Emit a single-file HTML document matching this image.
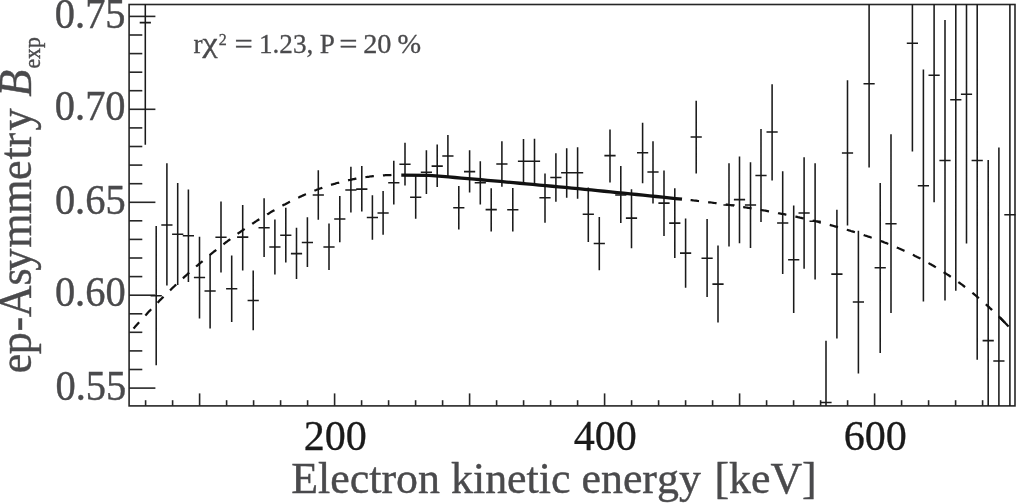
<!DOCTYPE html><html><head><meta charset="utf-8"><title>ep-Asymmetry</title><style>html,body{margin:0;padding:0;background:#fff}svg{display:block}text{font-family:"Liberation Serif","DejaVu Serif",serif;font-kerning:none}</style></head><body>
<svg width="1016" height="503" viewBox="0 0 1016 503">
<rect width="1016" height="503" fill="#fff"/>
<g stroke="#262626" stroke-width="1.6" fill="none">
<rect x="129.1" y="4.5" width="885.9" height="401.4"/>
<path d="M129.1 16.4h26.3"/>
<path d="M129.1 35.0h13.2"/>
<path d="M129.1 53.6h13.2"/>
<path d="M129.1 72.2h13.2"/>
<path d="M129.1 90.7h13.2"/>
<path d="M129.1 109.3h26.3"/>
<path d="M129.1 127.9h13.2"/>
<path d="M129.1 146.5h13.2"/>
<path d="M129.1 165.1h13.2"/>
<path d="M129.1 183.7h13.2"/>
<path d="M129.1 202.3h26.3"/>
<path d="M129.1 220.8h13.2"/>
<path d="M129.1 239.4h13.2"/>
<path d="M129.1 258.0h13.2"/>
<path d="M129.1 276.6h13.2"/>
<path d="M129.1 295.2h26.3"/>
<path d="M129.1 313.8h13.2"/>
<path d="M129.1 332.3h13.2"/>
<path d="M129.1 350.9h13.2"/>
<path d="M129.1 369.5h13.2"/>
<path d="M129.1 388.1h26.3"/>
<path d="M145.6 405.9v-5.7"/>
<path d="M172.6 405.9v-5.7"/>
<path d="M199.6 405.9v-12.5"/>
<path d="M226.6 405.9v-5.7"/>
<path d="M253.6 405.9v-5.7"/>
<path d="M280.6 405.9v-5.7"/>
<path d="M307.6 405.9v-5.7"/>
<path d="M334.6 405.9v-12.5"/>
<path d="M361.6 405.9v-5.7"/>
<path d="M388.6 405.9v-5.7"/>
<path d="M415.6 405.9v-5.7"/>
<path d="M442.6 405.9v-5.7"/>
<path d="M469.6 405.9v-12.5"/>
<path d="M496.6 405.9v-5.7"/>
<path d="M523.6 405.9v-5.7"/>
<path d="M550.6 405.9v-5.7"/>
<path d="M577.6 405.9v-5.7"/>
<path d="M604.6 405.9v-12.5"/>
<path d="M631.6 405.9v-5.7"/>
<path d="M658.6 405.9v-5.7"/>
<path d="M685.6 405.9v-5.7"/>
<path d="M712.6 405.9v-5.7"/>
<path d="M739.6 405.9v-12.5"/>
<path d="M766.6 405.9v-5.7"/>
<path d="M793.6 405.9v-5.7"/>
<path d="M820.6 405.9v-5.7"/>
<path d="M847.6 405.9v-5.7"/>
<path d="M874.6 405.9v-12.5"/>
<path d="M901.6 405.9v-5.7"/>
<path d="M928.6 405.9v-5.7"/>
<path d="M955.6 405.9v-5.7"/>
<path d="M982.6 405.9v-5.7"/>
</g>
<g stroke="#1a1a1a" stroke-width="1.55" fill="none">
<path d="M145.3 4.3V144.7M139.7 22.6h11.2M156.2 226.1V365.3M150.6 295.8h11.2M166.9 163.2V285.4M161.3 224.9h11.2M177.7 182.9V284.9M172.1 234.3h11.2M188.4 189.5V281.9M182.8 235.7h11.2M199.5 236.7V318.6M193.9 277.5h11.2M210.1 254.6V328.6M204.5 291.0h11.2M221.0 201.5V272.4M215.4 237.3h11.2M231.7 255.5V322.0M226.1 288.8h11.2M242.7 204.9V270.4M237.1 237.1h11.2M253.2 270.4V330.2M247.6 300.4h11.2M264.1 198.3V257.1M258.5 227.7h11.2M274.9 219.4V274.6M269.3 247.0h11.2M285.8 207.8V262.5M280.2 235.3h11.2M296.5 227.7V278.9M290.9 253.6h11.2M307.4 217.2V267.0M301.8 242.4h11.2M318.3 170.2V219.8M312.7 195.0h11.2M329.0 223.4V270.1M323.4 246.9h11.2M339.8 196.0V242.3M334.2 219.0h11.2M350.9 166.7V212.5M345.3 189.9h11.2M361.8 166.1V211.5M356.2 189.1h11.2M372.4 195.3V239.7M366.8 217.4h11.2M383.1 191.0V234.7M377.5 212.9h11.2M393.8 160.7V204.4M388.2 182.8h11.2M405.0 142.8V185.5M399.4 164.3h11.2M415.7 175.6V218.8M410.1 197.2h11.2M426.4 150.2V193.9M420.8 172.2h11.2M437.2 144.4V187.1M431.6 166.1h11.2M447.9 134.9V176.6M442.3 155.9h11.2M458.8 186.1V229.4M453.2 207.7h11.2M469.6 150.2V192.5M464.0 171.6h11.2M480.3 161.3V204.4M474.7 182.8h11.2M491.2 188.2V231.5M485.6 209.6h11.2M501.9 141.3V186.7M496.3 164.0h11.2M512.8 187.9V231.6M507.2 209.8h11.2M523.5 139.1V183.0M517.9 161.2h11.2M534.5 138.7V183.5M528.9 161.2h11.2M545.0 173.5V222.7M539.4 197.8h11.2M555.9 153.2V201.8M550.3 177.5h11.2M566.7 148.3V197.8M561.1 172.7h11.2M577.6 147.3V198.8M572.0 172.7h11.2M588.3 187.5V242.0M582.7 214.3h11.2M599.3 217.1V270.2M593.7 243.4h11.2M610.0 129.4V182.6M604.4 155.6h11.2M620.8 166.1V223.1M615.2 194.9h11.2M631.5 189.3V248.2M625.9 218.1h11.2M642.6 122.8V183.3M637.0 152.8h11.2M653.0 141.3V203.4M647.4 172.0h11.2M664.0 170.5V236.0M658.4 203.1h11.2M674.8 188.3V258.0M669.2 223.1h11.2M685.6 218.5V287.7M680.0 253.1h11.2M696.2 100.8V173.4M690.6 136.9h11.2M707.1 219.1V297.0M701.5 258.2h11.2M718.0 245.5V322.4M712.4 284.1h11.2M729.0 163.3V246.5M723.4 205.0h11.2M739.5 156.5V243.3M733.9 199.6h11.2M750.5 162.3V248.0M744.9 205.0h11.2M761.0 129.0V221.9M755.4 175.4h11.2M772.1 84.3V180.4M766.5 132.0h11.2M782.7 171.2V274.1M777.1 223.0h11.2M793.7 205.6V313.0M788.1 259.8h11.2M804.1 157.3V268.7M798.5 213.0h11.2M815.1 163.3V279.6M809.5 221.2h11.2M826.0 340.8V405.9M820.4 402.5h11.2M836.9 209.8V338.4M831.3 274.1h11.2M847.5 80.3V225.4M841.9 152.9h11.2M858.4 230.7V373.5M852.8 302.0h11.2M869.1 4.3V167.5M863.5 83.8h11.2M880.2 182.9V353.0M874.6 267.8h11.2M891.0 134.3V313.1M885.4 223.8h11.2M912.4 4.3V151.6M906.8 43.3h11.2M923.4 69.6V301.6M917.8 185.8h11.2M934.1 4.3V202.3M928.5 75.2h11.2M945.0 19.9V300.6M939.4 160.5h11.2M955.8 4.3V290.7M950.2 99.8h11.2M966.5 4.3V243.5M960.9 94.2h11.2M977.2 4.3V359.8M971.6 160.5h11.2M988.2 160.1V405.9M982.6 340.6h11.2M998.9 147.6V405.9M993.3 360.9h11.2M1009.9 4.3V405.9M1004.3 214.7h11.2"/>
</g>
<path d="M129.1 333.4 L130.0 332.4 L130.9 331.4 L131.8 330.4 L132.7 329.4 L133.6 328.4 L134.5 327.4 L135.3 326.4 L136.2 325.4 L137.1 324.4 L138.0 323.4 L138.9 322.4 L139.8 321.4 L140.7 320.5 L141.6 319.5 L142.5 318.5 L143.4 317.6 L144.3 316.6 L145.2 315.6 L146.1 314.7 L147.0 313.7 L147.8 312.8 L148.7 311.8 L149.6 310.9 L150.5 310.0 L151.4 309.0 L152.3 308.1 L153.2 307.2 L154.1 306.3 L155.0 305.3 L155.9 304.4 L156.8 303.5 L157.7 302.6 L158.6 301.7 L159.4 300.8 L160.3 299.9 L161.2 299.0 L162.1 298.1 L163.0 297.2 L163.9 296.3 L164.8 295.5 L165.7 294.6 L166.6 293.7 L167.5 292.8 L168.4 292.0 L169.3 291.1 L170.2 290.2 L171.1 289.4 L171.9 288.5 L172.8 287.7 L173.7 286.8 L174.6 286.0 L175.5 285.1 L176.4 284.3 L177.3 283.5 L178.2 282.6 L179.1 281.8 L180.0 281.0 L180.9 280.2 L181.8 279.3 L182.7 278.5 L183.6 277.7 L184.4 276.9 L185.3 276.1 L186.2 275.3 L187.1 274.5 L188.0 273.7 L188.9 272.9 L189.8 272.1 L190.7 271.3 L191.6 270.5 L192.5 269.7 L193.4 268.9 L194.3 268.2 L195.2 267.4 L196.0 266.6 L196.9 265.8 L197.8 265.1 L198.7 264.3 L199.6 263.5 L200.5 262.8 L201.4 262.0 L202.3 261.3 L203.2 260.5 L204.1 259.8 L205.0 259.0 L205.9 258.3 L206.8 257.6 L207.7 256.8 L208.5 256.1 L209.4 255.4 L210.3 254.6 L211.2 253.9 L212.1 253.2 L213.0 252.5 L213.9 251.7 L214.8 251.0 L215.7 250.3 L216.6 249.6 L217.5 248.9 L218.4 248.2 L219.3 247.5 L220.1 246.8 L221.0 246.1 L221.9 245.4 L222.8 244.8 L223.7 244.1 L224.6 243.4 L225.5 242.7 L226.4 242.0 L227.3 241.4 L228.2 240.7 L229.1 240.0 L230.0 239.4 L230.9 238.7 L231.8 238.1 L232.6 237.4 L233.5 236.7 L234.4 236.1 L235.3 235.5 L236.2 234.8 L237.1 234.2 L238.0 233.5 L238.9 232.9 L239.8 232.3 L240.7 231.6 L241.6 231.0 L242.5 230.4 L243.4 229.8 L244.3 229.2 L245.1 228.6 L246.0 227.9 L246.9 227.3 L247.8 226.7 L248.7 226.1 L249.6 225.5 L250.5 224.9 L251.4 224.4 L252.3 223.8 L253.2 223.2 L254.1 222.6 L255.0 222.0 L255.9 221.4 L256.7 220.9 L257.6 220.3 L258.5 219.7 L259.4 219.2 L260.3 218.6 L261.2 218.0 L262.1 217.5 L263.0 216.9 L263.9 216.4 L264.8 215.8 L265.7 215.3 L266.6 214.8 L267.5 214.2 L268.4 213.7 L269.2 213.2 L270.1 212.6 L271.0 212.1 L271.9 211.6 L272.8 211.1 L273.7 210.6 L274.6 210.1 L275.5 209.5 L276.4 209.0 L277.3 208.5 L278.2 208.0 L279.1 207.5 L280.0 207.0 L280.8 206.6 L281.7 206.1 L282.6 205.6 L283.5 205.1 L284.4 204.6 L285.3 204.2 L286.2 203.7 L287.1 203.2 L288.0 202.8 L288.9 202.3 L289.8 201.8 L290.7 201.4 L291.6 200.9 L292.5 200.5 L293.3 200.1 L294.2 199.6 L295.1 199.2 L296.0 198.7 L296.9 198.3 L297.8 197.9 L298.7 197.5 L299.6 197.1 L300.5 196.6 L301.4 196.2 L302.3 195.8 L303.2 195.4 L304.1 195.0 L305.0 194.6 L305.8 194.2 L306.7 193.8 L307.6 193.5 L308.5 193.1 L309.4 192.7 L310.3 192.3 L311.2 192.0 L312.1 191.6 L313.0 191.2 L313.9 190.9 L314.8 190.5 L315.7 190.2 L316.6 189.8 L317.4 189.5 L318.3 189.2 L319.2 188.8 L320.1 188.5 L321.0 188.2 L321.9 187.9 L322.8 187.5 L323.7 187.2 L324.6 186.9 L325.5 186.6 L326.4 186.3 L327.3 186.0 L328.2 185.7 L329.1 185.4 L329.9 185.2 L330.8 184.9 L331.7 184.6 L332.6 184.3 L333.5 184.1 L334.4 183.8 L335.3 183.6 L336.2 183.3 L337.1 183.0 L338.0 182.8 L338.9 182.6 L339.8 182.3 L340.7 182.1 L341.5 181.9 L342.4 181.6 L343.3 181.4 L344.2 181.2 L345.1 181.0 L346.0 180.8 L346.9 180.6 L347.8 180.4 L348.7 180.2 L349.6 180.0 L350.5 179.8 L351.4 179.6 L352.3 179.4 L353.2 179.2 L354.0 179.1 L354.9 178.9 L355.8 178.7 L356.7 178.5 L357.6 178.4 L358.5 178.2 L359.4 178.1 L360.3 177.9 L361.2 177.8 L362.1 177.6 L363.0 177.5 L363.9 177.4 L364.8 177.2 L365.7 177.1 L366.5 177.0 L367.4 176.9 L368.3 176.8 L369.2 176.7 L370.1 176.5 L371.0 176.4 L371.9 176.3 L372.8 176.2 L373.7 176.2 L374.6 176.1 L375.5 176.0 L376.4 175.9 L377.3 175.8 L378.1 175.7 L379.0 175.7 L379.9 175.6 L380.8 175.5 L381.7 175.5 L382.6 175.4 L383.5 175.3 L384.4 175.3 L385.3 175.2 L386.2 175.2 L387.1 175.1 L388.0 175.1 L388.9 175.1 L389.8 175.0 L390.6 175.0 L391.5 174.9 L392.4 174.9 L393.3 174.9 L394.2 174.9 L395.1 174.8 L396.0 174.8" stroke="#111" stroke-width="2.25" fill="none" stroke-dasharray="8.5 9.153" stroke-dashoffset="11.147"/>
<path d="M401.3 175.1 L429.0 175.29 L435.5 175.83 L442.0 176.38 L448.5 176.93 L454.9 177.49 L461.4 178.05 L467.9 178.61 L474.4 179.18 L480.9 179.74 L487.4 180.32 L493.9 180.89 L500.4 181.48 L506.8 182.06 L513.3 182.65 L519.8 183.24 L526.3 183.83 L532.8 184.43 L539.3 185.03 L545.8 185.64 L552.3 186.25 L558.7 186.86 L565.2 187.48 L571.7 188.10 L578.2 188.72 L584.7 189.35 L591.2 189.98 L597.7 190.62 L604.2 191.26 L610.6 191.90 L617.1 192.55 L623.6 193.20 L630.1 193.85 L636.6 194.51 L643.1 195.17 L649.6 195.83 L656.1 196.50 L662.5 197.17 L669.0 197.84 L675.5 198.52 L682.0 199.20" stroke="#111" stroke-width="3.3" fill="none" stroke-linejoin="round"/>
<path d="M682.0 199.1 L683.1 199.2 L684.2 199.4 L685.3 199.5 L686.3 199.6 L687.4 199.7 L688.5 199.8 L689.6 200.0 L690.7 200.1 L691.8 200.2 L692.8 200.3 L693.9 200.5 L695.0 200.6 L696.1 200.7 L697.2 200.8 L698.3 201.0 L699.3 201.1 L700.4 201.2 L701.5 201.3 L702.6 201.5 L703.7 201.6 L704.8 201.7 L705.8 201.9 L706.9 202.0 L708.0 202.1 L709.1 202.3 L710.2 202.4 L711.3 202.5 L712.3 202.7 L713.4 202.8 L714.5 203.0 L715.6 203.1 L716.7 203.2 L717.8 203.4 L718.8 203.5 L719.9 203.7 L721.0 203.8 L722.1 204.0 L723.2 204.1 L724.3 204.3 L725.3 204.4 L726.4 204.6 L727.5 204.7 L728.6 204.9 L729.7 205.0 L730.8 205.2 L731.8 205.3 L732.9 205.5 L734.0 205.6 L735.1 205.8 L736.2 206.0 L737.3 206.1 L738.3 206.3 L739.4 206.5 L740.5 206.6 L741.6 206.8 L742.7 207.0 L743.8 207.1 L744.8 207.3 L745.9 207.5 L747.0 207.6 L748.1 207.8 L749.2 208.0 L750.3 208.2 L751.4 208.3 L752.4 208.5 L753.5 208.7 L754.6 208.9 L755.7 209.0 L756.8 209.2 L757.9 209.4 L758.9 209.6 L760.0 209.8 L761.1 210.0 L762.2 210.2 L763.3 210.3 L764.4 210.5 L765.4 210.7 L766.5 210.9 L767.6 211.1 L768.7 211.3 L769.8 211.5 L770.9 211.7 L771.9 211.9 L773.0 212.1 L774.1 212.3 L775.2 212.5 L776.3 212.7 L777.4 212.9 L778.4 213.2 L779.5 213.4 L780.6 213.6 L781.7 213.8 L782.8 214.0 L783.9 214.2 L784.9 214.4 L786.0 214.7 L787.1 214.9 L788.2 215.1 L789.3 215.3 L790.4 215.6 L791.4 215.8 L792.5 216.0 L793.6 216.2 L794.7 216.5 L795.8 216.7 L796.9 216.9 L797.9 217.2 L799.0 217.4 L800.1 217.7 L801.2 217.9 L802.3 218.2 L803.4 218.4 L804.4 218.6 L805.5 218.9 L806.6 219.1 L807.7 219.4 L808.8 219.6 L809.9 219.9 L810.9 220.2 L812.0 220.4 L813.1 220.7 L814.2 220.9 L815.3 221.2 L816.4 221.5 L817.5 221.7 L818.5 222.0 L819.6 222.3 L820.7 222.6 L821.8 222.8 L822.9 223.1 L824.0 223.4 L825.0 223.7 L826.1 224.0 L827.2 224.2 L828.3 224.5 L829.4 224.8 L830.5 225.1 L831.5 225.4 L832.6 225.7 L833.7 226.0 L834.8 226.3 L835.9 226.6 L837.0 226.9 L838.0 227.2 L839.1 227.5 L840.2 227.8 L841.3 228.1 L842.4 228.4 L843.5 228.7 L844.5 229.0 L845.6 229.4 L846.7 229.7 L847.8 230.0 L848.9 230.3 L850.0 230.7 L851.0 231.0 L852.1 231.3 L853.2 231.6 L854.3 232.0 L855.4 232.3 L856.5 232.7 L857.5 233.0 L858.6 233.3 L859.7 233.7 L860.8 234.0 L861.9 234.4 L863.0 234.7 L864.0 235.1 L865.1 235.5 L866.2 235.8 L867.3 236.2 L868.4 236.6 L869.5 236.9 L870.5 237.3 L871.6 237.7 L872.7 238.1 L873.8 238.5 L874.9 238.8 L876.0 239.2 L877.1 239.6 L878.1 240.0 L879.2 240.4 L880.3 240.8 L881.4 241.2 L882.5 241.6 L883.6 242.1 L884.6 242.5 L885.7 242.9 L886.8 243.3 L887.9 243.8 L889.0 244.2 L890.1 244.6 L891.1 245.1 L892.2 245.5 L893.3 246.0 L894.4 246.4 L895.5 246.9 L896.6 247.3 L897.6 247.8 L898.7 248.3 L899.8 248.7 L900.9 249.2 L902.0 249.7 L903.1 250.2 L904.1 250.7 L905.2 251.2 L906.3 251.7 L907.4 252.2 L908.5 252.7 L909.6 253.2 L910.6 253.7 L911.7 254.3 L912.8 254.8 L913.9 255.3 L915.0 255.9 L916.1 256.4 L917.1 257.0 L918.2 257.5 L919.3 258.1 L920.4 258.6 L921.5 259.2 L922.6 259.8 L923.6 260.4 L924.7 261.0 L925.8 261.5 L926.9 262.1 L928.0 262.7 L929.1 263.4 L930.1 264.0 L931.2 264.6 L932.3 265.2 L933.4 265.8 L934.5 266.5 L935.6 267.1 L936.6 267.8 L937.7 268.4 L938.8 269.1 L939.9 269.8 L941.0 270.4 L942.1 271.1 L943.2 271.8 L944.2 272.5 L945.3 273.2 L946.4 273.9 L947.5 274.6 L948.6 275.3 L949.7 276.0 L950.7 276.8 L951.8 277.5 L952.9 278.2 L954.0 279.0 L955.1 279.7 L956.2 280.5 L957.2 281.3 L958.3 282.1 L959.4 282.8 L960.5 283.6 L961.6 284.4 L962.7 285.2 L963.7 286.0 L964.8 286.9 L965.9 287.7 L967.0 288.5 L968.1 289.4 L969.2 290.2 L970.2 291.1 L971.3 291.9 L972.4 292.8 L973.5 293.7 L974.6 294.6 L975.7 295.5 L976.7 296.4 L977.8 297.3 L978.9 298.2 L980.0 299.1 L981.1 300.0 L982.2 301.0 L983.2 301.9 L984.3 302.9 L985.4 303.8 L986.5 304.8 L987.6 305.8 L988.7 306.8 L989.7 307.8 L990.8 308.8 L991.9 309.8 L993.0 310.8 L994.1 311.9 L995.2 312.9 L996.2 313.9 L997.3 315.0 L998.4 316.1 L999.5 317.1 L1000.6 318.2 L1001.7 319.3 L1002.7 320.4 L1003.8 321.5 L1004.9 322.6 L1006.0 323.8" stroke="#111" stroke-width="2.25" fill="none" stroke-dasharray="8.5 9.201" stroke-dashoffset="9.048"/>
<path d="M1000.0 317.6 L1001.0 318.6 L1001.9 319.6 L1002.9 320.5 L1003.8 321.5 L1004.8 322.5 L1005.7 323.5 L1006.7 324.5 L1007.6 325.5 L1008.6 326.5" stroke="#111" stroke-width="2.25" fill="none"/>
<text x="54.8" y="27.9" font-size="41.7" fill="#4a4a4c" stroke="#4a4a4c" stroke-width="0.4" textLength="70.8" lengthAdjust="spacingAndGlyphs">0.75</text>
<text x="54.8" y="120.1" font-size="41.7" fill="#4a4a4c" stroke="#4a4a4c" stroke-width="0.4" textLength="70.8" lengthAdjust="spacingAndGlyphs">0.70</text>
<text x="54.9" y="214.0" font-size="41.7" fill="#4a4a4c" stroke="#4a4a4c" stroke-width="0.4" textLength="70.8" lengthAdjust="spacingAndGlyphs">0.65</text>
<text x="54.9" y="306.0" font-size="41.7" fill="#4a4a4c" stroke="#4a4a4c" stroke-width="0.4" textLength="70.8" lengthAdjust="spacingAndGlyphs">0.60</text>
<text x="55.5" y="400.0" font-size="41.7" fill="#4a4a4c" stroke="#4a4a4c" stroke-width="0.4" textLength="70.8" lengthAdjust="spacingAndGlyphs">0.55</text>
<text x="335.3" y="450.4" font-size="42.1" fill="#1a1a1a" stroke="#1a1a1a" stroke-width="0.3" text-anchor="middle">200</text>
<text x="605.3" y="450.4" font-size="42.1" fill="#1a1a1a" stroke="#1a1a1a" stroke-width="0.3" text-anchor="middle">400</text>
<text x="875.3" y="450.4" font-size="42.1" fill="#1a1a1a" stroke="#1a1a1a" stroke-width="0.3" text-anchor="middle">600</text>
<text x="291.3" y="493" font-size="43.3" fill="#4a4a4c" stroke="#4a4a4c" stroke-width="0.4" textLength="409.6" lengthAdjust="spacingAndGlyphs">Electron kinetic energy</text>
<text x="714.4" y="493" font-size="43.3" fill="#4a4a4c" stroke="#4a4a4c" stroke-width="0.4" textLength="102.3" lengthAdjust="spacingAndGlyphs">[keV]</text>
<g transform="translate(30.6 372.0) rotate(-90)" fill="#4a4a4c" stroke="#4a4a4c" stroke-width="0.4"><g transform="scale(0.97 1)"><text x="-1.30 18.30 41.87 56.42 89.16 104.39 128.23 163.07 197.98 218.99 231.58 248.87 271.38" y="0" font-size="45.6">ep-Asymmetry </text><text x="283.89" y="0" font-size="45.6" font-style="italic">B</text></g><text x="303.5" y="9.3" font-size="24" textLength="31.3" lengthAdjust="spacingAndGlyphs">exp</text></g>
<text transform="translate(202.5 52.1) scale(1.22 1)" font-size="28" fill="#4a4a4c" stroke="#4a4a4c" stroke-width="0.35" font-family="'Liberation Sans','DejaVu Sans',sans-serif">χ</text>
<text x="193.6" y="53.1" font-size="27.2" fill="#4a4a4c" stroke="#4a4a4c" stroke-width="0.3">r</text>
<text x="218.7" y="44.8" font-size="16.0" fill="#4a4a4c" stroke="#4a4a4c" stroke-width="0.3">2</text>
<text x="234.5" y="53.1" font-size="27.2" fill="#4a4a4c" stroke="#4a4a4c" stroke-width="0.3" textLength="18.3" lengthAdjust="spacingAndGlyphs">=</text>
<text x="258.9" y="53.1" font-size="27.2" fill="#4a4a4c" stroke="#4a4a4c" stroke-width="0.3">1.23,</text>
<text x="319.8" y="53.1" font-size="27.2" fill="#4a4a4c" stroke="#4a4a4c" stroke-width="0.3">P</text>
<text x="339.3" y="53.1" font-size="27.2" fill="#4a4a4c" stroke="#4a4a4c" stroke-width="0.3" textLength="18.3" lengthAdjust="spacingAndGlyphs">=</text>
<text x="363.2" y="53.1" font-size="27.2" fill="#4a4a4c" stroke="#4a4a4c" stroke-width="0.3" textLength="28.3" lengthAdjust="spacingAndGlyphs">20</text>
<text x="397.4" y="53.1" font-size="27.2" fill="#4a4a4c" stroke="#4a4a4c" stroke-width="0.3" textLength="23.6" lengthAdjust="spacingAndGlyphs">%</text>
</svg></body></html>
